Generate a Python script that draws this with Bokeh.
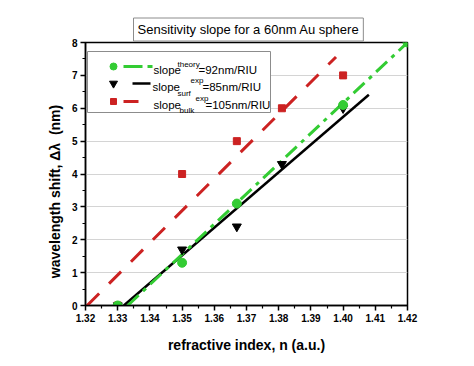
from bokeh.plotting import figure
from bokeh.models import FixedTicker, Label, Range1d, Title
from bokeh.embed import file_html
from bokeh.resources import INLINE

# ---------------- data ----------------
n_theory = [1.33, 1.35, 1.367, 1.40, 1.42]
shift_theory = [0.0, 1.3, 3.1, 6.1, 8.0]
n_surf = [1.33, 1.35, 1.367, 1.381, 1.40]
shift_surf = [0.0, 1.7, 2.4, 4.3, 6.0]
n_bulk = [1.33, 1.35, 1.367, 1.381, 1.40]
shift_bulk = [0.0, 4.0, 5.0, 6.0, 7.0]

fit_theory_n = [1.3331, 1.42]
fit_theory_shift = [0.0, 8.0]
fit_surf_n = [1.3319, 1.408]
fit_surf_shift = [0.0, 6.41]
fit_bulk_n = [1.3205, 1.3978]
fit_bulk_shift = [0.0, 7.56]

x_ticks = [1.32, 1.33, 1.34, 1.35, 1.36, 1.37, 1.38, 1.39, 1.40, 1.41, 1.42]
x_tick_labels = ["1.32", "1.33", "1.34", "1.35", "1.36", "1.37", "1.38", "1.39", "1.40", "1.41", "1.42"]
y_ticks = [0, 1, 2, 3, 4, 5, 6, 7, 8]

title_text = "Sensitivity slope for a 60nm Au sphere"
x_label = "refractive index, n (a.u.)"
y_label = "wavelength shift, \u0394\u03bb\u00a0\u00a0(nm)"
legend_main = ["slope", "slope", "slope"]
legend_sup = ["theory", "exp", "exp"]
legend_sub = ["", "surf", "bulk"]
legend_tail = ["=92nm/RIU", "=85nm/RIU", "=105nm/RIU"]

GREEN = "#33cc33"
RED = "#cc2222"
BLACK = "#000000"
FONT = "Liberation Sans"

X0, X1 = x_ticks[0], x_ticks[-1]
Y0, Y1 = y_ticks[0], y_ticks[-1]

W, H = 474, 366
BL, BT = 85, 42
FW, FH = 322, 263
BR, BB = W - BL - FW, H - BT - FH

p = figure(width=W, height=H, x_range=Range1d(X0, X1), y_range=Range1d(Y0, Y1),
           output_backend="svg", toolbar_location=None,
           min_border_left=BL, min_border_right=BR, min_border_top=BT, min_border_bottom=BB)
p.background_fill_color = "white"
p.border_fill_color = "white"
p.outline_line_color = "black"
p.outline_line_width = 1.5

# page pixel -> data helpers (for legend layout only)
def px2x(px):
    return X0 + (px - BL) / FW * (X1 - X0)

def py2y(py):
    return Y0 + (BT + FH - py) / FH * (Y1 - Y0)

# title (boxed)
p.title = Title(text=title_text, align="left", offset=48, standoff=3,
                text_font=FONT, text_font_size="13px", text_font_style="normal",
                text_color="black", background_fill_color="white",
                border_line_color="#8c8c8c", border_line_width=1, padding=4)

# axes
xminor = [(a + b) / 2 for a, b in zip(x_ticks[:-1], x_ticks[1:])]
yminor = [(a + b) / 2 for a, b in zip(y_ticks[:-1], y_ticks[1:])]
p.xaxis.ticker = FixedTicker(ticks=x_ticks, minor_ticks=xminor)
p.yaxis.ticker = FixedTicker(ticks=y_ticks, minor_ticks=yminor)
p.xaxis.major_label_overrides = {t: l for t, l in zip(x_ticks, x_tick_labels)}
for ax in (p.xaxis, p.yaxis):
    ax.axis_line_width = 1.5
    ax.axis_line_color = "black"
    ax.major_tick_in = 0
    ax.major_tick_out = 5
    ax.minor_tick_in = 0
    ax.minor_tick_out = 3
    ax.major_tick_line_width = 1.5
    ax.minor_tick_line_width = 1.2
    ax.major_tick_line_color = "black"
    ax.minor_tick_line_color = "black"
    ax.major_label_text_font = FONT
    ax.major_label_text_font_style = "bold"
    ax.major_label_text_font_size = "10px"
    ax.major_label_text_color = "black"
    ax.major_label_standoff = 3
    ax.axis_label_text_font = FONT
    ax.axis_label_text_font_style = "bold"
    ax.axis_label_text_font_size = "14px"
    ax.axis_label_text_color = "black"
p.xaxis.axis_label = x_label
p.xaxis.axis_label_standoff = 12
p.yaxis.axis_label = y_label + "\u2002" * 5
p.yaxis.axis_label_standoff = 6

p.xgrid.visible = False
p.ygrid.grid_line_color = "#d4d4d4"
p.ygrid.grid_line_width = 1

# fit lines
p.line(fit_bulk_n, fit_bulk_shift, line_color=RED, line_width=3, line_dash="17 14")
p.line(fit_surf_n, fit_surf_shift, line_color=BLACK, line_width=2.5)
p.line(fit_theory_n, fit_theory_shift, line_color=GREEN, line_width=3, line_dash="15 6 4 6")

# data points
p.scatter(n_bulk, shift_bulk, marker="square", size=7, fill_color=RED, line_color=RED)
p.scatter(n_surf, shift_surf, marker="inverted_triangle", size=9, fill_color=BLACK, line_color=BLACK)
p.scatter(n_theory, shift_theory, marker="circle", size=9, fill_color=GREEN, line_color=GREEN)

# legend box (drawn above grid and data, below legend texts)
p.quad(left=[px2x(87)], right=[px2x(270)], top=[py2y(51)], bottom=[py2y(112)],
       fill_color="white", fill_alpha=1.0, line_color="#8c8c8c", line_width=1, level="guide")

rows_y = [66, 83, 101]
# legend samples
p.line([px2x(123), px2x(152)], [py2y(rows_y[0])] * 2, line_color=GREEN, line_width=3,
       line_dash="19 5 5", level="guide")
p.scatter([px2x(113)], [py2y(rows_y[0])], marker="circle", size=7, fill_color=GREEN,
          line_color=GREEN, level="guide")
p.line([px2x(132), px2x(150)], [py2y(rows_y[1])] * 2, line_color=BLACK, line_width=2.5,
       level="guide")
p.scatter([px2x(113)], [py2y(rows_y[1])], marker="inverted_triangle", size=8, fill_color=BLACK,
          line_color=BLACK, level="guide")
p.line([px2x(123), px2x(138)], [py2y(rows_y[2])] * 2, line_color=RED, line_width=3,
       level="guide")
p.scatter([px2x(113)], [py2y(rows_y[2])], marker="square", size=6, fill_color=RED,
          line_color=RED, level="guide")

# legend texts
main_x = [153, 152, 153]
main_base = [69, 86, 104]
sup_x = [177, 190, 195]
sup_base = [64, 80, 98]
sub_x = [0, 177, 179]
sub_base = [0, 93, 110]
tail_x = [198, 202, 205]

def add_text(txt, px, py, size):
    if not txt:
        return
    p.add_layout(Label(x=px2x(px), y=py2y(py), text=txt, text_font=FONT,
                       text_font_size=size, text_color="black", text_baseline="alphabetic",
                       text_align="left"))

for i in range(3):
    add_text(legend_main[i], main_x[i], main_base[i], "11.5px")
    add_text(legend_sup[i], sup_x[i], sup_base[i], "8px")
    add_text(legend_sub[i], sub_x[i], sub_base[i], "8px")
    add_text(legend_tail[i], tail_x[i], main_base[i], "11.5px")

open("out.html", "w").write(file_html(p, INLINE))
